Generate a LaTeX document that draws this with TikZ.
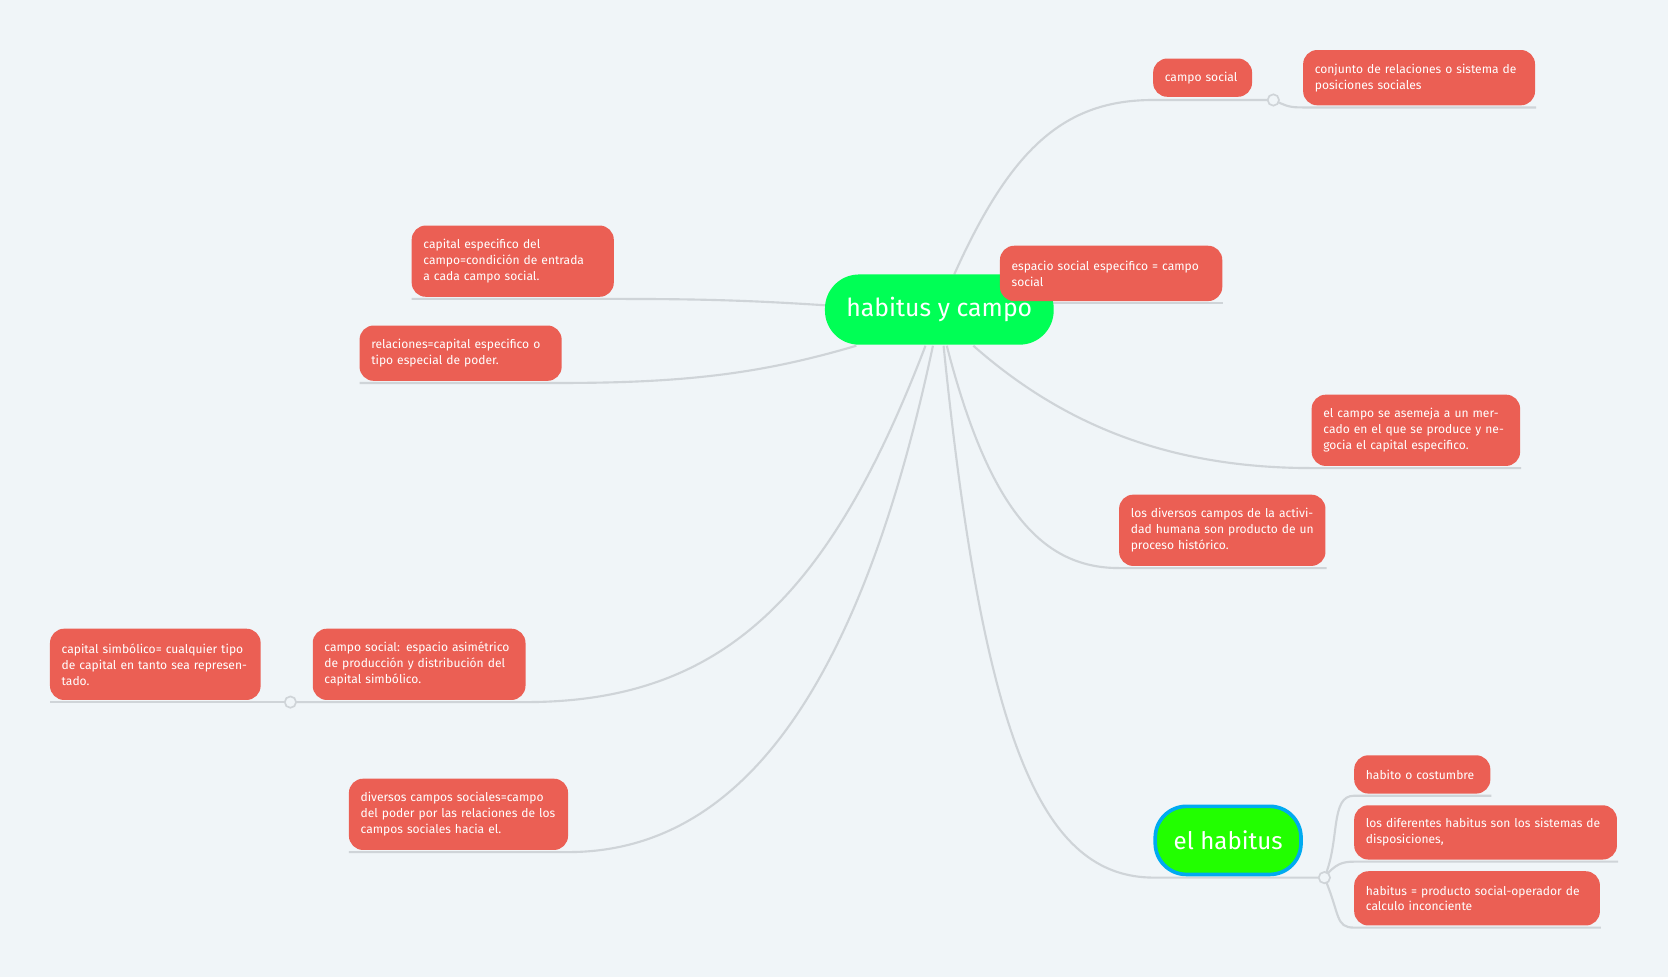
\documentclass[tikz,border=0pt]{standalone}
\usepackage{fontspec}
\setmainfont{Fira Sans}
\definecolor{bg}{HTML}{F0F5F8}
\definecolor{nred}{HTML}{EB5F54}
\definecolor{lin}{HTML}{CFD4D8}
\definecolor{rootg}{HTML}{00FF55}
\definecolor{habg}{HTML}{22FF00}
\definecolor{habb}{HTML}{00AAF0}
\tikzset{
 leaf/.style={fill=nred,text=white,rounded corners=10pt,align=left,inner sep=0pt,font=\fontsize{8.5}{11.25}\selectfont},
 conn/.style={draw=lin,line width=1.5pt},
 knob/.style={circle,draw=lin,fill=bg,line width=1.2pt,minimum size=8pt,inner sep=0pt}
}
\newcommand{\leafnode}[6]{%
 \node[leaf,minimum width={(#4-#2)*0.75pt},minimum height={(#5-#3)*0.75pt},text width={(#4-#2-22)*0.75pt}] (#1) at ({(#2+#4)/2},{(#3+#5)/2}) {#6};}
\begin{document}
\begin{tikzpicture}[x=0.75pt,y=-0.75pt]
\fill[bg] (0,0) rectangle (1568,918);
\useasboundingbox (0,0) rectangle (1568,918);
% connectors
\coordinate (r1) at (897,258);
\draw[conn] (r1) .. controls (950,140) and (1000,94) .. (1084,94) -- (1197,94);
\draw[conn] (1197,94) .. controls (1210,100) and (1212,101) .. (1225,101) -- (1444,101);
\draw[conn] (985,285) -- (1150,285);
\draw[conn] (915,325) .. controls (1000,400) and (1100,440) .. (1233,440) -- (1430,440);
\draw[conn] (890,325) .. controls (930,480) and (980,534) .. (1052,534) -- (1247,534);
\draw[conn] (887,325) .. controls (925,700) and (980,825) .. (1085,825) -- (1245,825);
\draw[conn] (1245,825) .. controls (1260,790) and (1250,748) .. (1273,748) -- (1402,748);
\draw[conn] (1245,825) .. controls (1255,812) and (1262,810) .. (1273,810) -- (1521,810);
\draw[conn] (1245,825) .. controls (1260,860) and (1255,872) .. (1273,872) -- (1505,872);
\draw[conn] (776,287) .. controls (700,282) and (650,281) .. (577,281) -- (387,281);
\draw[conn] (805,325) .. controls (720,350) and (650,360) .. (528,360) -- (338,360);
\draw[conn] (870,325) .. controls (780,560) and (680,660) .. (494,660) -- (273,660);
\draw[conn] (273,660) -- (47,660);
\draw[conn] (877,325) .. controls (810,640) and (700,801) .. (534,801) -- (328,801);
\node[knob] (k1) at (1197,94) {};
\node[knob] (k2) at (1245,825) {};
\node[knob] (k3) at (273,660) {};
% nodes
\node[fill=rootg,text=white,rounded corners=24pt,minimum width={215*0.75pt},minimum height={66*0.75pt},font=\fontsize{17.5}{20}\selectfont] (root) at (883,291) {habitus y campo};
\leafnode{cs}{1084}{55}{1177}{91}{campo social}
\leafnode{cj}{1225}{47}{1443}{99}{conjunto de relaciones o sistema de posiciones sociales}
\leafnode{es}{940}{231}{1149}{283}{espacio social especifico = campo social}
\leafnode{ec}{1233}{371}{1429}{438}{el campo se asemeja a un mercado en el que se produce y negocia el capital especifico.}
\leafnode{ld}{1052}{465}{1246}{532}{los diversos campos de la actividad humana son producto de un proceso histórico.}
\node[fill=habg,draw=habb,line width=2.6pt,text=white,rounded corners=22pt,minimum width={137*0.75pt},minimum height={64*0.75pt},font=\fontsize{17}{20}\selectfont] (hab) at (1154.5,790) {el habitus};
\leafnode{h1}{1273}{710}{1401}{746}{habito o costumbre}
\leafnode{h2}{1273}{757}{1520}{808}{los diferentes habitus son los sistemas de disposiciones,}
\leafnode{h3}{1273}{819}{1504}{870}{habitus = producto social-operador de calculo inconciente}
\leafnode{ce}{387}{212}{577}{279}{capital especifico del campo=condición de entrada a cada campo social.}
\leafnode{re}{338}{306}{528}{358}{relaciones=capital especifico o tipo especial de poder.}
\leafnode{ca}{294}{591}{494}{658}{campo social: espacio asimétrico de producción y distribución del capital simbólico.}
\leafnode{cs2}{47}{591}{245}{658}{capital simbólico= cualquier tipo de capital en tanto sea representado.}
\leafnode{dc}{328}{732}{534}{799}{diversos campos sociales=campo del poder por las relaciones de los campos sociales hacia el.}
\end{tikzpicture}
\end{document}
